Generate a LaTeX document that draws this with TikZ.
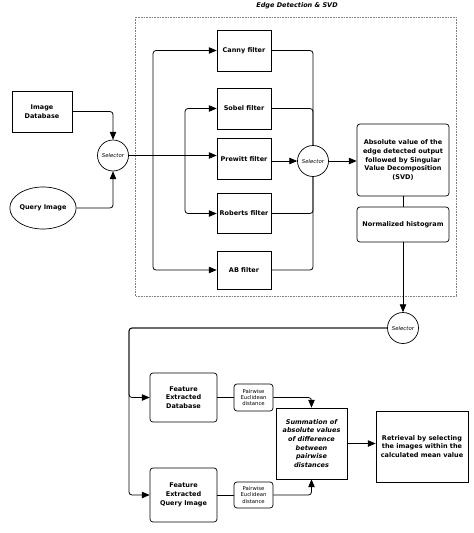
\documentclass[tikz,border=0pt]{standalone}
\usepackage{fontspec}
\setmainfont{DejaVu Sans}
\usetikzlibrary{positioning, arrows, shapes.geometric}

\begin{document}
\begin{tikzpicture}[x=1pt, y=-1pt, >=triangle 45,
  every node/.style={font=\fontsize{6.5}{8.7}\selectfont\bfseries, align=center, inner sep=0pt},
  box/.style={draw, line width=0.7pt, minimum width=#1},
  rbox/.style={box=#1, rounded corners=3pt},
  sel/.style={draw, circle, line width=0.7pt, minimum size=31pt, font=\fontsize{5.4}{6}\selectfont\itshape},
  small/.style={font=\fontsize{5.3}{6.3}\selectfont},
  link/.style={line width=0.8pt, rounded corners=3pt}]
\useasboundingbox (0,0) rectangle (474,533);

% edge detection block
\draw[densely dotted, gray, line width=0.6pt] (135,17) rectangle (456,296);
\node[font=\fontsize{6.5}{8}\selectfont\bfseries\itshape] (title) at (297,6) {Edge Detection \& SVD};

\node[box=60pt, minimum height=41pt] (imgdb) at (42,111.5) {Image\\Database};
\node[draw, ellipse, line width=0.7pt, minimum width=60pt, minimum height=42pt] (query) at (43,208) {Query Image};
\node[sel] (sel1) at (113,155.5) {Selector};

\node[box=54pt, minimum height=41pt] (canny) at (244,50.5) {Canny filter};
\node[box=54pt, minimum height=41pt] (sobel) at (244,108.5) {Sobel filter};
\node[box=54pt, minimum height=41pt] (prewitt) at (244,159) {Prewitt filter};
\node[box=54pt, minimum height=40pt] (roberts) at (244,213.5) {Roberts filter};
\node[box=54pt, minimum height=38pt] (ab) at (244,270) {AB filter};

\node[sel] (sel2) at (313,161) {Selector};
\node[rbox=92pt, minimum height=72pt] (svd) at (403,160)
  {Absolute value of the\\edge detected output\\followed by Singular\\Value Decomposition\\(SVD)};
\node[rbox=92pt, minimum height=35pt] (hist) at (403,224.5) {Normalized histogram};

% retrieval part
\node[sel] (sel3) at (403,328) {Selector};
\node[rbox=67pt, minimum height=49pt] (fed) at (183.5,397.5) {Feature\\Extracted\\Database};
\node[rbox=67pt, minimum height=54pt] (feq) at (183.5,495) {Feature\\Extracted\\Query Image};
\node[rbox=39pt, minimum height=27pt, small] (pw1) at (253.5,397.5) {Pairwise\\Euclidean\\distance};
\node[rbox=39pt, minimum height=26pt, small] (pw2) at (253.5,495) {Pairwise\\Euclidean\\distance};
\node[box=71pt, minimum height=71pt, font=\fontsize{6.5}{8.7}\selectfont\bfseries\itshape] (sum) at (311.5,443.5)
  {Summation of\\absolute values\\of difference\\between\\pairwise\\distances};
\node[box=92pt, minimum height=71pt] (ret) at (422,446.5)
  {Retrieval by selecting\\the images within the\\calculated mean value};

\coordinate (j1) at (153,155.5);
\coordinate (j2) at (185,155.5);
\coordinate (k1) at (129,397.5);
\coordinate (k2) at (129,495);

\draw[link, ->] (imgdb.east) -| (sel1.north);
\draw[link, ->] (query.east) -| (sel1.south);
\draw[link, ->] (sel1.east) -- (sel1 -| prewitt.west);
\draw[link, ->] (j1) |- (canny.west);
\draw[link, ->] (j1) |- (ab.west);
\draw[link, ->] (j2) |- (sobel.west);
\draw[link, ->] (j2) |- (roberts.west);

\draw[link] (canny.east) -| (sel2.north);
\draw[link] (sobel.east) -| (sel2.north);
\draw[link] (roberts.east) -| (sel2.south);
\draw[link] (ab.east) -| (sel2.south);
\draw[link, ->] (prewitt.east |- sel2) -- (sel2.west);
\draw[link, ->] (sel2.east) -- (sel2 -| svd.west);
\draw[link] (svd.south) -- (hist.north);
\draw[link, ->] (hist.south) -- (sel3.north);

\draw[link, ->] (sel3.west) -| (k1) -- (fed.west);
\draw[link, ->] (sel3.west) -| (k2) -- (feq.west);
\draw[link] (fed.east) -- (pw1.west);
\draw[link] (feq.east) -- (pw2.west);
\draw[link, ->] (pw1.east) -| (sum.north);
\draw[link, ->] (pw2.east) -| (sum.south);
\draw[link, ->] (sum.east) -- (sum.east -| ret.west);
\end{tikzpicture}
\end{document}
